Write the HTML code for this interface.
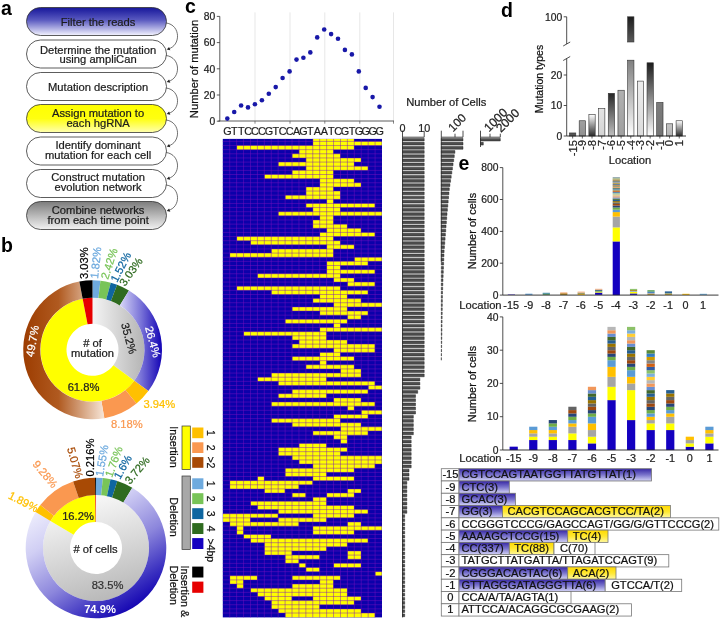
<!DOCTYPE html>
<html><head><meta charset="utf-8"><title>Figure</title>
<style>
html,body{margin:0;padding:0;background:#fff;}
svg{display:block;font-family:'Liberation Sans', sans-serif;}
</style></head><body>
<svg width="720" height="619" viewBox="0 0 720 619">
<defs>
<linearGradient id="gBlue" x1="0" y1="0" x2="0" y2="1"><stop offset="0" stop-color="#16169a"/><stop offset="0.45" stop-color="#5a5ac0"/><stop offset="1" stop-color="#f4f4ff"/></linearGradient>
<linearGradient id="gYel" x1="0" y1="0" x2="0" y2="1"><stop offset="0" stop-color="#ffff00"/><stop offset="0.5" stop-color="#ffff10"/><stop offset="1" stop-color="#ffffb0"/></linearGradient>
<linearGradient id="gGray" x1="0" y1="0" x2="0" y2="1"><stop offset="0" stop-color="#7c7c7c"/><stop offset="0.5" stop-color="#b8b8b8"/><stop offset="1" stop-color="#f2f2f2"/></linearGradient>
<linearGradient id="uBlue" gradientUnits="userSpaceOnUse" x1="114.5" y1="0" x2="162.5" y2="0"><stop offset="0" stop-color="#f0f0ff"/><stop offset="0.55" stop-color="#7a74d8"/><stop offset="1" stop-color="#1000b4"/></linearGradient>
<linearGradient id="uBrown" gradientUnits="userSpaceOnUse" x1="22.5" y1="0" x2="102.5" y2="0"><stop offset="0" stop-color="#9c3c00"/><stop offset="0.45" stop-color="#b05a20"/><stop offset="1" stop-color="#f4e0d0"/></linearGradient>
<linearGradient id="uGray" gradientUnits="userSpaceOnUse" x1="92.5" y1="0" x2="144.5" y2="0"><stop offset="0" stop-color="#f4f4f4"/><stop offset="1" stop-color="#b4b4b4"/></linearGradient>
<linearGradient id="lBlue" gradientUnits="userSpaceOnUse" x1="54" y1="488" x2="132" y2="612"><stop offset="0" stop-color="#f6f6ff"/><stop offset="0.3" stop-color="#d0cef4"/><stop offset="0.6" stop-color="#8c86dc"/><stop offset="0.85" stop-color="#3a30c0"/><stop offset="1" stop-color="#1000b0"/></linearGradient>
<linearGradient id="lGray" gradientUnits="userSpaceOnUse" x1="81" y1="496" x2="111" y2="600"><stop offset="0" stop-color="#fafafa"/><stop offset="1" stop-color="#b8b8b8"/></linearGradient>
<linearGradient id="d0" x1="0" y1="0" x2="0" y2="1"><stop offset="0" stop-color="#555"/><stop offset="1" stop-color="#555"/></linearGradient>
<linearGradient id="d1" x1="0" y1="0" x2="0" y2="1"><stop offset="0" stop-color="#a0a0a0"/><stop offset="1" stop-color="#909090"/></linearGradient>
<linearGradient id="d2" x1="0" y1="0" x2="0" y2="1"><stop offset="0" stop-color="#ffffff"/><stop offset="1" stop-color="#2a2a2a"/></linearGradient>
<linearGradient id="d3" x1="0" y1="0" x2="0" y2="1"><stop offset="0" stop-color="#e4e4e4"/><stop offset="1" stop-color="#d4d4d4"/></linearGradient>
<linearGradient id="d4" x1="0" y1="0" x2="0" y2="1"><stop offset="0" stop-color="#262626"/><stop offset="1" stop-color="#c0c0c0"/></linearGradient>
<linearGradient id="d5" x1="0" y1="0" x2="0" y2="1"><stop offset="0" stop-color="#b0b0b0"/><stop offset="1" stop-color="#a0a0a0"/></linearGradient>
<linearGradient id="d6" x1="0" y1="0" x2="0" y2="1"><stop offset="0" stop-color="#808080"/><stop offset="1" stop-color="#ffffff"/></linearGradient>
<linearGradient id="d6u" x1="0" y1="0" x2="0" y2="1"><stop offset="0" stop-color="#1c1c1c"/><stop offset="1" stop-color="#5a5a5a"/></linearGradient>
<linearGradient id="d7" x1="0" y1="0" x2="0" y2="1"><stop offset="0" stop-color="#ececec"/><stop offset="1" stop-color="#dcdcdc"/></linearGradient>
<linearGradient id="d8" x1="0" y1="0" x2="0" y2="1"><stop offset="0" stop-color="#1c1c1c"/><stop offset="1" stop-color="#ffffff"/></linearGradient>
<linearGradient id="d9" x1="0" y1="0" x2="0" y2="1"><stop offset="0" stop-color="#7c7c7c"/><stop offset="1" stop-color="#747474"/></linearGradient>
<linearGradient id="d10" x1="0" y1="0" x2="0" y2="1"><stop offset="0" stop-color="#c4c4c4"/><stop offset="1" stop-color="#b4b4b4"/></linearGradient>
<linearGradient id="d11" x1="0" y1="0" x2="0" y2="1"><stop offset="0" stop-color="#ffffff"/><stop offset="1" stop-color="#2a2a2a"/></linearGradient>
<linearGradient id="tB" x1="0" y1="0" x2="0" y2="1"><stop offset="0" stop-color="#3626a4"/><stop offset="0.5" stop-color="#7a74cc"/><stop offset="1" stop-color="#d4d4f6"/></linearGradient>
<linearGradient id="tY" x1="0" y1="0" x2="0" y2="1"><stop offset="0" stop-color="#ffd800"/><stop offset="0.5" stop-color="#ffe830"/><stop offset="1" stop-color="#fff8a0"/></linearGradient>
</defs>
<rect x="0" y="0" width="720" height="619" fill="#fff"/>
<text x="1.00" y="14.50" font-size="19.5" text-anchor="start" fill="#000" font-weight="bold">a</text>
<rect x="26.5" y="7.5" width="140.0" height="28" rx="14" ry="14" fill="url(#gBlue)" stroke="#333" stroke-width="0.8"/>
<text x="98.10" y="25.50" font-size="11.2" text-anchor="middle" fill="#1c1c1c" font-weight="normal" stroke="#1c1c1c" stroke-width="0.22">Filter the reads</text>
<path d="M166.2,23.0 C181.0,25.0 181.0,46 168.0,49" fill="none" stroke="#333" stroke-width="0.7"/>
<path d="M166.7,49.6 l3.6,0.6 l-1.2,-3.2 z" fill="#222"/>
<rect x="26.5" y="40" width="140.0" height="28" rx="14" ry="14" fill="#fff" stroke="#333" stroke-width="0.8"/>
<text x="98.10" y="53.75" font-size="11.2" text-anchor="middle" fill="#1c1c1c" font-weight="normal" stroke="#1c1c1c" stroke-width="0.22">Determine the mutation</text>
<text x="98.10" y="63.00" font-size="11.2" text-anchor="middle" fill="#1c1c1c" font-weight="normal" stroke="#1c1c1c" stroke-width="0.22">using ampliCan</text>
<path d="M166.2,55.5 C181.0,57.5 181.0,78.5 168.0,81.5" fill="none" stroke="#333" stroke-width="0.7"/>
<path d="M166.7,82.1 l3.6,0.6 l-1.2,-3.2 z" fill="#222"/>
<rect x="26.5" y="72.5" width="140.0" height="28" rx="14" ry="14" fill="#fff" stroke="#333" stroke-width="0.8"/>
<text x="98.10" y="90.50" font-size="11.2" text-anchor="middle" fill="#1c1c1c" font-weight="normal" stroke="#1c1c1c" stroke-width="0.22">Mutation description</text>
<path d="M166.2,88.0 C181.0,90.0 181.0,110.5 168.0,113.5" fill="none" stroke="#333" stroke-width="0.7"/>
<path d="M166.7,114.1 l3.6,0.6 l-1.2,-3.2 z" fill="#222"/>
<rect x="26.5" y="104.5" width="140.0" height="28" rx="14" ry="14" fill="url(#gYel)" stroke="#333" stroke-width="0.8"/>
<text x="98.10" y="117.25" font-size="11.2" text-anchor="middle" fill="#1c1c1c" font-weight="normal" stroke="#1c1c1c" stroke-width="0.22">Assign mutation to</text>
<text x="98.10" y="127.25" font-size="11.2" text-anchor="middle" fill="#1c1c1c" font-weight="normal" stroke="#1c1c1c" stroke-width="0.22">each hgRNA</text>
<path d="M166.2,120.0 C181.0,122.0 181.0,143 168.0,146" fill="none" stroke="#333" stroke-width="0.7"/>
<path d="M166.7,146.6 l3.6,0.6 l-1.2,-3.2 z" fill="#222"/>
<rect x="26.5" y="137" width="140.0" height="28" rx="14" ry="14" fill="#fff" stroke="#333" stroke-width="0.8"/>
<text x="98.10" y="149.25" font-size="11.2" text-anchor="middle" fill="#1c1c1c" font-weight="normal" stroke="#1c1c1c" stroke-width="0.22">Identify dominant</text>
<text x="98.10" y="159.25" font-size="11.2" text-anchor="middle" fill="#1c1c1c" font-weight="normal" stroke="#1c1c1c" stroke-width="0.22">mutation for each cell</text>
<path d="M166.2,152.5 C181.0,154.5 181.0,175.5 168.0,178.5" fill="none" stroke="#333" stroke-width="0.7"/>
<path d="M166.7,179.1 l3.6,0.6 l-1.2,-3.2 z" fill="#222"/>
<rect x="26.5" y="169.5" width="140.0" height="28" rx="14" ry="14" fill="#fff" stroke="#333" stroke-width="0.8"/>
<text x="98.10" y="181.25" font-size="11.2" text-anchor="middle" fill="#1c1c1c" font-weight="normal" stroke="#1c1c1c" stroke-width="0.22">Construct mutation</text>
<text x="98.10" y="191.00" font-size="11.2" text-anchor="middle" fill="#1c1c1c" font-weight="normal" stroke="#1c1c1c" stroke-width="0.22">evolution network</text>
<path d="M166.2,185.0 C181.0,187.0 181.0,207.5 168.0,210.5" fill="none" stroke="#333" stroke-width="0.7"/>
<path d="M166.7,211.1 l3.6,0.6 l-1.2,-3.2 z" fill="#222"/>
<rect x="26.5" y="201.5" width="140.0" height="28" rx="14" ry="14" fill="url(#gGray)" stroke="#333" stroke-width="0.8"/>
<text x="98.10" y="213.75" font-size="11.2" text-anchor="middle" fill="#1c1c1c" font-weight="normal" stroke="#1c1c1c" stroke-width="0.22">Combine networks</text>
<text x="98.10" y="223.75" font-size="11.2" text-anchor="middle" fill="#1c1c1c" font-weight="normal" stroke="#1c1c1c" stroke-width="0.22">from each time point</text>
<text x="1.00" y="252.00" font-size="19.5" text-anchor="start" fill="#000" font-weight="bold">b</text>
<path d="M92.50,297.70 A52,52 0 0 1 134.28,380.66 L113.39,365.18 A26,26 0 0 0 92.50,323.70 Z" fill="url(#uGray)"/>
<path d="M134.28,380.66 A52,52 0 1 1 82.66,298.64 L87.58,324.17 A26,26 0 1 0 113.39,365.18 Z" fill="#ffff00"/>
<path d="M82.66,298.64 A52,52 0 0 1 92.50,297.70 L92.50,323.70 A26,26 0 0 0 87.58,324.17 Z" fill="#e60000"/>
<path d="M92.50,280.20 A69.5,69.5 0 0 1 100.43,280.65 L98.43,298.04 A52,52 0 0 0 92.50,297.70 Z" fill="#6eaade"/>
<path d="M100.43,280.65 A69.5,69.5 0 0 1 110.80,282.65 L106.19,299.53 A52,52 0 0 0 98.43,298.04 Z" fill="#78c458"/>
<path d="M110.80,282.65 A69.5,69.5 0 0 1 117.11,284.70 L110.91,301.07 A52,52 0 0 0 106.19,299.53 Z" fill="#0f66a0"/>
<path d="M117.11,284.70 A69.5,69.5 0 0 1 128.96,290.53 L119.78,305.43 A52,52 0 0 0 110.91,301.07 Z" fill="#2f6b20"/>
<path d="M128.96,290.53 A69.5,69.5 0 0 1 148.34,391.08 L134.28,380.66 A52,52 0 0 0 119.78,305.43 Z" fill="url(#uBlue)"/>
<path d="M148.34,391.08 A69.5,69.5 0 0 1 136.50,403.50 L125.42,389.95 A52,52 0 0 0 134.28,380.66 Z" fill="#ffc000"/>
<path d="M136.50,403.50 A69.5,69.5 0 0 1 104.36,418.18 L101.38,400.94 A52,52 0 0 0 125.42,389.95 Z" fill="#fa9850"/>
<path d="M104.36,418.18 A69.5,69.5 0 0 1 79.35,281.46 L82.66,298.64 A52,52 0 0 0 101.38,400.94 Z" fill="url(#uBrown)"/>
<path d="M79.35,281.46 A69.5,69.5 0 0 1 92.50,280.20 L92.50,297.70 A52,52 0 0 0 82.66,298.64 Z" fill="#000"/>
<text x="92.50" y="346.70" font-size="11.2" text-anchor="middle" fill="#1a1a1a" font-weight="normal" stroke="#1a1a1a" stroke-width="0.22"># of</text>
<text x="92.50" y="356.50" font-size="11.2" text-anchor="middle" fill="#1a1a1a" font-weight="normal" stroke="#1a1a1a" stroke-width="0.22">mutation</text>
<text x="83.50" y="391.30" font-size="11.2" text-anchor="middle" fill="#222" font-weight="normal" stroke="#222" stroke-width="0.22">61.8%</text>
<text x="121.00" y="324.00" font-size="11.2" text-anchor="start" fill="#1a1a1a" font-weight="normal" stroke="#1a1a1a" stroke-width="0.22" transform="rotate(75 121.00 324.00)">35.2%</text>
<text x="145.00" y="327.50" font-size="11.2" text-anchor="start" fill="#fff" font-weight="normal" stroke="#fff" stroke-width="0.22" transform="rotate(75 145.00 327.50)">26.4%</text>
<text x="33.50" y="357.50" font-size="11.2" text-anchor="start" fill="#fff" font-weight="normal" stroke="#fff" stroke-width="0.22" transform="rotate(-80 33.50 357.50)">49.7%</text>
<text x="143.50" y="407.50" font-size="11.2" text-anchor="start" fill="#ffc000" font-weight="normal" stroke="#ffc000" stroke-width="0.22">3.94%</text>
<text x="111.00" y="428.00" font-size="11.2" text-anchor="start" fill="#fa9850" font-weight="normal" stroke="#fa9850" stroke-width="0.22">8.18%</text>
<text x="87.50" y="279.00" font-size="11.2" text-anchor="start" fill="#000" font-weight="normal" stroke="#000" stroke-width="0.22" transform="rotate(-90 87.50 279.00)">3.03%</text>
<text x="98.00" y="279.00" font-size="11.2" text-anchor="start" fill="#6eaade" font-weight="normal" stroke="#6eaade" stroke-width="0.22" transform="rotate(-84 98.00 279.00)">1.82%</text>
<text x="108.00" y="280.00" font-size="11.2" text-anchor="start" fill="#78c458" font-weight="normal" stroke="#78c458" stroke-width="0.22" transform="rotate(-72 108.00 280.00)">2.42%</text>
<text x="117.00" y="283.00" font-size="11.2" text-anchor="start" fill="#0f66a0" font-weight="normal" stroke="#0f66a0" stroke-width="0.22" transform="rotate(-63 117.00 283.00)">1.52%</text>
<text x="125.00" y="287.00" font-size="11.2" text-anchor="start" fill="#2f6b20" font-weight="normal" stroke="#2f6b20" stroke-width="0.22" transform="rotate(-55 125.00 287.00)">3.03%</text>
<path d="M96.00,495.00 A53,53 0 1 1 50.47,520.88 L73.66,534.69 A26,26 0 1 0 96.00,522.00 Z" fill="url(#lGray)"/>
<path d="M50.47,520.88 A53,53 0 0 1 95.30,495.00 L95.66,522.00 A26,26 0 0 0 73.66,534.69 Z" fill="#ffff00"/>
<path d="M95.30,495.00 A53,53 0 0 1 96.02,495.00 L96.01,522.00 A26,26 0 0 0 95.66,522.00 Z" fill="#e60000"/>
<path d="M96.00,477.70 A70.3,70.3 0 0 1 102.84,478.03 L101.15,495.25 A53,53 0 0 0 96.00,495.00 Z" fill="#6eaade"/>
<path d="M102.84,478.03 A70.3,70.3 0 0 1 110.52,479.21 L106.94,496.14 A53,53 0 0 0 101.15,495.25 Z" fill="#78c458"/>
<path d="M110.52,479.21 A70.3,70.3 0 0 1 117.35,481.02 L112.09,497.50 A53,53 0 0 0 106.94,496.14 Z" fill="#0f66a0"/>
<path d="M117.35,481.02 A70.3,70.3 0 0 1 132.28,487.78 L123.35,502.60 A53,53 0 0 0 112.09,497.50 Z" fill="#2f6b20"/>
<path d="M132.28,487.78 A70.3,70.3 0 1 1 35.60,512.02 L50.47,520.88 A53,53 0 1 0 123.35,502.60 Z" fill="url(#lBlue)"/>
<path d="M35.60,512.02 A70.3,70.3 0 0 1 40.29,505.12 L54.00,515.67 A53,53 0 0 0 50.47,520.88 Z" fill="#ffc000"/>
<path d="M40.29,505.12 A70.3,70.3 0 0 1 73.10,481.53 L78.74,497.89 A53,53 0 0 0 54.00,515.67 Z" fill="#fa9850"/>
<path d="M73.10,481.53 A70.3,70.3 0 0 1 95.07,477.71 L95.30,495.00 A53,53 0 0 0 78.74,497.89 Z" fill="#a84a05"/>
<path d="M95.07,477.71 A70.3,70.3 0 0 1 96.03,477.70 L96.02,495.00 A53,53 0 0 0 95.30,495.00 Z" fill="#000"/>
<text x="95.50" y="552.50" font-size="11.2" text-anchor="middle" fill="#1a1a1a" font-weight="normal" stroke="#1a1a1a" stroke-width="0.22"># of cells</text>
<text x="107.50" y="589.30" font-size="11.2" text-anchor="middle" fill="#333" font-weight="normal" stroke="#333" stroke-width="0.22">83.5%</text>
<text x="100.00" y="612.50" font-size="11.2" text-anchor="middle" fill="#fff" font-weight="bold">74.9%</text>
<text x="78.00" y="519.60" font-size="11.2" text-anchor="middle" fill="#222" font-weight="normal" stroke="#222" stroke-width="0.22">16.2%</text>
<text x="94.30" y="476.50" font-size="11.2" text-anchor="start" fill="#000" font-weight="normal" stroke="#000" stroke-width="0.22" transform="rotate(-90 94.30 476.50)">0.216%</text>
<text x="103.00" y="477.00" font-size="11.2" text-anchor="start" fill="#6eaade" font-weight="normal" stroke="#6eaade" stroke-width="0.22" transform="rotate(-80 103.00 477.00)">1.55%</text>
<text x="112.00" y="478.00" font-size="11.2" text-anchor="start" fill="#78c458" font-weight="normal" stroke="#78c458" stroke-width="0.22" transform="rotate(-70 112.00 478.00)">1.76%</text>
<text x="120.00" y="480.00" font-size="11.2" text-anchor="start" fill="#0f66a0" font-weight="normal" stroke="#0f66a0" stroke-width="0.22" transform="rotate(-61 120.00 480.00)">1.6%</text>
<text x="130.00" y="485.00" font-size="11.2" text-anchor="start" fill="#2f6b20" font-weight="normal" stroke="#2f6b20" stroke-width="0.22" transform="rotate(-50 130.00 485.00)">3.72%</text>
<text x="67.00" y="448.50" font-size="11.2" text-anchor="start" fill="#a84a05" font-weight="normal" stroke="#a84a05" stroke-width="0.22" transform="rotate(74 67.00 448.50)">5.07%</text>
<text x="32.00" y="464.50" font-size="11.2" text-anchor="start" fill="#fa9850" font-weight="normal" stroke="#fa9850" stroke-width="0.22" transform="rotate(50 32.00 464.50)">9.28%</text>
<text x="7.50" y="498.00" font-size="11.2" text-anchor="start" fill="#ffc000" font-weight="normal" stroke="#ffc000" stroke-width="0.22" transform="rotate(27 7.50 498.00)">1.89%</text>
<text x="169.50" y="447.00" font-size="10.8" text-anchor="middle" fill="#111" font-weight="normal" stroke="#111" stroke-width="0.22" transform="rotate(90 169.50 447.00)">Insertion</text>
<rect x="182" y="426" width="8.3" height="43.5" fill="#ffff00" stroke="#333" stroke-width="0.7"/>
<rect x="192.2" y="427.5" width="11.2" height="10.7" fill="#ffc000"/>
<rect x="192.2" y="442.3" width="11.2" height="10.7" fill="#fa9850"/>
<rect x="192.2" y="457.1" width="11.2" height="10.7" fill="#a84a05"/>
<text x="207.00" y="432.80" font-size="10.5" text-anchor="middle" fill="#111" font-weight="normal" stroke="#111" stroke-width="0.22" transform="rotate(90 207.00 432.80)">1</text>
<text x="207.00" y="447.60" font-size="10.5" text-anchor="middle" fill="#111" font-weight="normal" stroke="#111" stroke-width="0.22" transform="rotate(90 207.00 447.60)">2</text>
<text x="207.00" y="462.40" font-size="10.5" text-anchor="middle" fill="#111" font-weight="normal" stroke="#111" stroke-width="0.22" transform="rotate(90 207.00 462.40)">&gt;2</text>
<text x="169.50" y="517.00" font-size="10.8" text-anchor="middle" fill="#111" font-weight="normal" stroke="#111" stroke-width="0.22" transform="rotate(90 169.50 517.00)">Deletion</text>
<rect x="182" y="476" width="8.3" height="73.5" fill="#a8a8a8" stroke="#333" stroke-width="0.7"/>
<rect x="192.2" y="478.3" width="11.2" height="10.9" fill="#6eaade"/>
<rect x="192.2" y="493.2" width="11.2" height="10.9" fill="#78c458"/>
<rect x="192.2" y="508.2" width="11.2" height="10.9" fill="#0f66a0"/>
<rect x="192.2" y="523.1" width="11.2" height="10.9" fill="#2f6b20"/>
<rect x="192.2" y="538.1" width="11.2" height="10.9" fill="#1400c0"/>
<text x="207.00" y="483.70" font-size="10.5" text-anchor="middle" fill="#111" font-weight="normal" stroke="#111" stroke-width="0.22" transform="rotate(90 207.00 483.70)">1</text>
<text x="207.00" y="498.65" font-size="10.5" text-anchor="middle" fill="#111" font-weight="normal" stroke="#111" stroke-width="0.22" transform="rotate(90 207.00 498.65)">2</text>
<text x="207.00" y="513.60" font-size="10.5" text-anchor="middle" fill="#111" font-weight="normal" stroke="#111" stroke-width="0.22" transform="rotate(90 207.00 513.60)">3</text>
<text x="207.00" y="528.55" font-size="10.5" text-anchor="middle" fill="#111" font-weight="normal" stroke="#111" stroke-width="0.22" transform="rotate(90 207.00 528.55)">4</text>
<text x="207.00" y="538.50" font-size="10.5" text-anchor="start" fill="#111" font-weight="normal" stroke="#111" stroke-width="0.22" transform="rotate(90 207.00 538.50)">&gt;4bp</text>
<text x="180.50" y="565.50" font-size="10.8" text-anchor="start" fill="#111" font-weight="normal" stroke="#111" stroke-width="0.22" transform="rotate(90 180.50 565.50)">Insertion &amp;</text>
<text x="169.50" y="565.50" font-size="10.8" text-anchor="start" fill="#111" font-weight="normal" stroke="#111" stroke-width="0.22" transform="rotate(90 169.50 565.50)">Deletion</text>
<rect x="192.2" y="566.6" width="11.2" height="10.9" fill="#000"/>
<rect x="192.2" y="581.6" width="11.2" height="11.2" fill="#e60000"/>
<text x="185.00" y="13.00" font-size="19.5" text-anchor="start" fill="#000" font-weight="bold">c</text>
<line x1="255" y1="12.4" x2="255" y2="121.2" stroke="#dcdcdc" stroke-width="0.7"/>
<line x1="255" y1="121.2" x2="255" y2="123.7" stroke="#555" stroke-width="0.7"/>
<line x1="290" y1="12.4" x2="290" y2="121.2" stroke="#dcdcdc" stroke-width="0.7"/>
<line x1="290" y1="121.2" x2="290" y2="123.7" stroke="#555" stroke-width="0.7"/>
<line x1="324.8" y1="12.4" x2="324.8" y2="121.2" stroke="#dcdcdc" stroke-width="0.7"/>
<line x1="324.8" y1="121.2" x2="324.8" y2="123.7" stroke="#555" stroke-width="0.7"/>
<line x1="359.8" y1="12.4" x2="359.8" y2="121.2" stroke="#dcdcdc" stroke-width="0.7"/>
<line x1="359.8" y1="121.2" x2="359.8" y2="123.7" stroke="#555" stroke-width="0.7"/>
<line x1="393.5" y1="12.4" x2="393.5" y2="121.2" stroke="#dcdcdc" stroke-width="0.7"/>
<line x1="393.5" y1="121.2" x2="393.5" y2="123.7" stroke="#555" stroke-width="0.7"/>
<line x1="219.8" y1="16.4" x2="219.8" y2="121.2" stroke="#333" stroke-width="0.8"/>
<line x1="218.3" y1="121.0" x2="394" y2="121.0" stroke="#333" stroke-width="0.8"/>
<line x1="216.8" y1="121.2" x2="219.8" y2="121.2" stroke="#333" stroke-width="0.8"/>
<text x="215.30" y="124.90" font-size="10.3" text-anchor="end" fill="#222" font-weight="normal" stroke="#222" stroke-width="0.22">0</text>
<line x1="216.8" y1="95.0" x2="219.8" y2="95.0" stroke="#333" stroke-width="0.8"/>
<text x="215.30" y="98.70" font-size="10.3" text-anchor="end" fill="#222" font-weight="normal" stroke="#222" stroke-width="0.22">20</text>
<line x1="216.8" y1="68.8" x2="219.8" y2="68.8" stroke="#333" stroke-width="0.8"/>
<text x="215.30" y="72.50" font-size="10.3" text-anchor="end" fill="#222" font-weight="normal" stroke="#222" stroke-width="0.22">40</text>
<line x1="216.8" y1="42.6" x2="219.8" y2="42.6" stroke="#333" stroke-width="0.8"/>
<text x="215.30" y="46.30" font-size="10.3" text-anchor="end" fill="#222" font-weight="normal" stroke="#222" stroke-width="0.22">60</text>
<line x1="216.8" y1="16.4" x2="219.8" y2="16.4" stroke="#333" stroke-width="0.8"/>
<text x="215.30" y="20.10" font-size="10.3" text-anchor="end" fill="#222" font-weight="normal" stroke="#222" stroke-width="0.22">80</text>
<text x="197.50" y="69.00" font-size="11.2" text-anchor="middle" fill="#111" font-weight="normal" stroke="#111" stroke-width="0.22" transform="rotate(-90 197.50 69.00)">Number of mutation</text>
<circle cx="227.3" cy="118.6" r="2.3" fill="#1818a8"/>
<circle cx="234.2" cy="112.0" r="2.3" fill="#1818a8"/>
<circle cx="241.1" cy="105.5" r="2.3" fill="#1818a8"/>
<circle cx="248.0" cy="107.4" r="2.3" fill="#1818a8"/>
<circle cx="254.9" cy="104.2" r="2.3" fill="#1818a8"/>
<circle cx="261.9" cy="100.2" r="2.3" fill="#1818a8"/>
<circle cx="268.8" cy="93.7" r="2.3" fill="#1818a8"/>
<circle cx="275.7" cy="87.1" r="2.3" fill="#1818a8"/>
<circle cx="282.6" cy="78.0" r="2.3" fill="#1818a8"/>
<circle cx="289.6" cy="71.4" r="2.3" fill="#1818a8"/>
<circle cx="296.5" cy="59.6" r="2.3" fill="#1818a8"/>
<circle cx="303.4" cy="57.7" r="2.3" fill="#1818a8"/>
<circle cx="310.3" cy="52.4" r="2.3" fill="#1818a8"/>
<circle cx="317.2" cy="37.4" r="2.3" fill="#1818a8"/>
<circle cx="324.2" cy="29.5" r="2.3" fill="#1818a8"/>
<circle cx="331.1" cy="34.1" r="2.3" fill="#1818a8"/>
<circle cx="338.0" cy="38.7" r="2.3" fill="#1818a8"/>
<circle cx="344.9" cy="49.9" r="2.3" fill="#1818a8"/>
<circle cx="351.9" cy="54.4" r="2.3" fill="#1818a8"/>
<circle cx="358.8" cy="71.4" r="2.3" fill="#1818a8"/>
<circle cx="365.7" cy="87.9" r="2.3" fill="#1818a8"/>
<circle cx="372.6" cy="97.1" r="2.3" fill="#1818a8"/>
<circle cx="379.5" cy="106.8" r="2.3" fill="#1818a8"/>
<text y="135.0" font-size="10.8" stroke="#222" stroke-width="0.2" text-anchor="middle" fill="#222"><tspan x="227.4">G</tspan><tspan x="234.3">T</tspan><tspan x="241.2">T</tspan><tspan x="248.1">C</tspan><tspan x="255.0">C</tspan><tspan x="262.0">C</tspan><tspan x="268.9">G</tspan><tspan x="275.8">T</tspan><tspan x="282.7">C</tspan><tspan x="289.7">C</tspan><tspan x="296.6">A</tspan><tspan x="303.5">G</tspan><tspan x="310.4">T</tspan><tspan x="317.3">A</tspan><tspan x="324.3">A</tspan><tspan x="331.2">T</tspan><tspan x="338.1">C</tspan><tspan x="345.0">G</tspan><tspan x="352.0">T</tspan><tspan x="358.9">G</tspan><tspan x="365.8">G</tspan><tspan x="372.7">G</tspan><tspan x="379.6">G</tspan></text>
<rect x="222.8" y="138.9" width="159.20" height="478.50" fill="#0b00aa"/>
<path d="M313.03,138.90H354.06V141.40H313.03ZM313.03,141.40H381.75V145.54H313.03ZM236.89,145.54H354.06V149.67H236.89ZM299.19,149.67H333.30V153.81H299.19ZM292.27,153.81H340.22V157.95H292.27ZM306.11,157.95H360.98V162.09H306.11ZM278.42,162.09H354.06V166.22H278.42ZM306.11,166.22H367.91V170.36H306.11ZM292.27,170.36H333.30V174.50H292.27ZM264.58,174.50H333.30V178.63H264.58ZM319.95,178.63H354.06V182.77H319.95ZM319.95,182.77H360.98V186.91H319.95ZM306.11,186.91H333.30V191.04H306.11ZM306.11,191.04H340.22V195.18H306.11ZM285.35,195.18H340.22V199.32H285.35ZM326.88,199.32H333.30V203.45H326.88ZM306.11,203.45H374.83V207.59H306.11ZM313.03,207.59H340.22V211.73H313.03ZM278.42,211.73H381.75V215.87H278.42ZM319.95,215.87H333.30V220.00H319.95ZM313.03,220.00H333.30V224.14H313.03ZM313.03,224.14H347.14V228.28H313.03ZM326.88,228.28H360.98V232.41H326.88ZM319.95,232.41H374.83V236.55H319.95ZM236.89,236.55H333.30V240.69H236.89ZM250.74,240.69H340.22V244.82H250.74ZM326.88,244.82H354.06V248.96H326.88ZM271.50,248.96H333.30V253.10H271.50ZM229.97,253.10H333.30V257.24H229.97ZM354.56,257.24H381.75V261.37H354.56ZM326.88,261.37H367.91V265.51H326.88ZM326.88,265.51H340.22V269.65H326.88ZM326.88,269.65H374.83V273.78H326.88ZM257.66,273.78H340.22V277.92H257.66ZM333.80,277.92H354.06V282.06H333.80ZM347.64,282.06H374.83V286.19H347.64ZM236.89,286.19H340.22V290.33H236.89ZM271.50,290.33H367.91V294.47H271.50ZM319.95,294.47H347.14V298.61H319.95ZM313.03,298.61H360.98V302.74H313.03ZM333.80,302.74H381.75V306.88H333.80ZM292.27,306.88H347.14V311.02H292.27ZM319.95,311.02H367.91V315.15H319.95ZM347.64,315.15H360.98V319.29H347.64ZM285.35,319.29H347.14V323.43H285.35ZM333.80,323.43H340.22V327.56H333.80ZM319.95,327.56H381.75V331.70H319.95ZM243.82,331.70H326.38V335.84H243.82ZM292.27,335.84H326.38V339.98H292.27ZM299.19,339.98H347.14V344.11H299.19ZM292.27,344.11H374.83V348.25H292.27ZM333.80,348.25H374.83V352.39H333.80ZM319.95,352.39H340.22V356.52H319.95ZM292.27,356.52H354.06V360.66H292.27ZM319.95,360.66H326.38V364.80H319.95ZM306.11,364.80H354.06V368.93H306.11ZM340.72,368.93H360.98V373.07H340.72ZM271.50,373.07H360.98V377.21H271.50ZM257.66,377.21H326.38V381.35H257.66ZM278.42,381.35H374.83V385.48H278.42ZM368.41,385.48H381.75V389.62H368.41ZM292.27,389.62H367.91V393.76H292.27ZM278.42,393.76H326.38V397.89H278.42ZM333.80,397.89H360.98V402.03H333.80ZM271.50,402.03H374.83V406.17H271.50ZM347.64,406.17H354.06V410.30H347.64ZM361.48,410.30H381.75V414.44H361.48ZM333.80,414.44H367.91V418.58H333.80ZM271.50,418.58H340.22V422.72H271.50ZM292.27,422.72H360.98V426.85H292.27ZM340.72,426.85H381.75V430.99H340.72ZM313.03,430.99H367.91V435.13H313.03ZM333.80,435.13H347.14V439.26H333.80ZM340.72,439.26H347.14V443.40H340.72ZM299.19,443.40H326.38V447.54H299.19ZM278.42,447.54H347.14V451.67H278.42ZM278.42,451.67H340.22V455.81H278.42ZM292.27,455.81H381.75V459.95H292.27ZM299.19,459.95H381.75V464.09H299.19ZM313.03,464.09H374.83V468.22H313.03ZM285.35,468.22H354.06V472.36H285.35ZM285.35,472.36H326.38V476.50H285.35ZM257.66,476.50H264.08V480.63H257.66ZM313.03,476.50H354.06V480.63H313.03ZM229.97,480.63H312.53V484.77H229.97ZM229.97,484.77H298.69V488.91H229.97ZM264.58,488.91H284.85V493.04H264.58ZM347.64,488.91H360.98V493.04H347.64ZM292.27,493.04H305.61V497.18H292.27ZM326.88,493.04H354.06V497.18H326.88ZM313.03,497.18H326.38V501.32H313.03ZM250.74,501.32H326.38V505.46H250.74ZM257.66,505.46H354.06V509.59H257.66ZM278.42,509.59H367.91V513.73H278.42ZM223.05,513.73H277.92V517.87H223.05ZM313.03,513.73H354.06V517.87H313.03ZM223.05,517.87H250.24V522.00H223.05ZM278.42,517.87H326.38V522.00H278.42ZM229.97,522.00H298.69V526.14H229.97ZM347.64,522.00H360.98V526.14H347.64ZM236.89,526.14H243.32V530.28H236.89ZM313.03,526.14H381.75V530.28H313.03ZM236.89,530.28H243.32V534.41H236.89ZM313.03,530.28H354.06V534.41H313.03ZM243.82,534.41H271.00V538.55H243.82ZM250.74,538.55H367.91V542.69H250.74ZM264.58,542.69H347.14V546.83H264.58ZM264.58,546.83H326.38V550.96H264.58ZM264.58,550.96H291.77V555.10H264.58ZM347.64,550.96H360.98V555.10H347.64ZM285.35,555.10H319.45V559.24H285.35ZM347.64,555.10H360.98V559.24H347.64ZM285.35,559.24H298.69V563.37H285.35ZM299.19,563.37H305.61V567.51H299.19ZM333.80,563.37H360.98V567.51H333.80ZM306.11,567.51H319.45V571.65H306.11ZM375.33,571.65H381.75V575.78H375.33ZM229.97,575.78H257.16V579.92H229.97ZM292.27,575.78H340.22V579.92H292.27ZM229.97,579.92H243.32V584.06H229.97ZM319.95,579.92H333.30V584.06H319.95ZM236.89,584.06H243.32V588.20H236.89ZM292.27,584.06H333.30V588.20H292.27ZM250.74,588.20H347.14V592.33H250.74ZM257.66,592.33H347.14V596.47H257.66ZM264.58,596.47H291.77V600.61H264.58ZM313.03,596.47H360.98V600.61H313.03ZM271.50,600.61H354.06V604.74H271.50ZM271.50,604.74H319.45V608.88H271.50ZM278.42,608.88H360.98V613.02H278.42ZM285.35,613.02H374.83V617.15H285.35Z" fill="#ffff00"/>
<path d="M229.72,138.9V617.4M236.64,138.9V617.4M243.57,138.9V617.4M250.49,138.9V617.4M257.41,138.9V617.4M264.33,138.9V617.4M271.25,138.9V617.4M278.17,138.9V617.4M285.10,138.9V617.4M292.02,138.9V617.4M298.94,138.9V617.4M305.86,138.9V617.4M312.78,138.9V617.4M319.70,138.9V617.4M326.63,138.9V617.4M333.55,138.9V617.4M340.47,138.9V617.4M347.39,138.9V617.4M354.31,138.9V617.4M361.23,138.9V617.4M368.16,138.9V617.4M375.08,138.9V617.4M222.8,141.40H382.0M222.8,145.54H382.0M222.8,149.67H382.0M222.8,153.81H382.0M222.8,157.95H382.0M222.8,162.09H382.0M222.8,166.22H382.0M222.8,170.36H382.0M222.8,174.50H382.0M222.8,178.63H382.0M222.8,182.77H382.0M222.8,186.91H382.0M222.8,191.04H382.0M222.8,195.18H382.0M222.8,199.32H382.0M222.8,203.45H382.0M222.8,207.59H382.0M222.8,211.73H382.0M222.8,215.87H382.0M222.8,220.00H382.0M222.8,224.14H382.0M222.8,228.28H382.0M222.8,232.41H382.0M222.8,236.55H382.0M222.8,240.69H382.0M222.8,244.82H382.0M222.8,248.96H382.0M222.8,253.10H382.0M222.8,257.24H382.0M222.8,261.37H382.0M222.8,265.51H382.0M222.8,269.65H382.0M222.8,273.78H382.0M222.8,277.92H382.0M222.8,282.06H382.0M222.8,286.19H382.0M222.8,290.33H382.0M222.8,294.47H382.0M222.8,298.61H382.0M222.8,302.74H382.0M222.8,306.88H382.0M222.8,311.02H382.0M222.8,315.15H382.0M222.8,319.29H382.0M222.8,323.43H382.0M222.8,327.56H382.0M222.8,331.70H382.0M222.8,335.84H382.0M222.8,339.98H382.0M222.8,344.11H382.0M222.8,348.25H382.0M222.8,352.39H382.0M222.8,356.52H382.0M222.8,360.66H382.0M222.8,364.80H382.0M222.8,368.93H382.0M222.8,373.07H382.0M222.8,377.21H382.0M222.8,381.35H382.0M222.8,385.48H382.0M222.8,389.62H382.0M222.8,393.76H382.0M222.8,397.89H382.0M222.8,402.03H382.0M222.8,406.17H382.0M222.8,410.30H382.0M222.8,414.44H382.0M222.8,418.58H382.0M222.8,422.72H382.0M222.8,426.85H382.0M222.8,430.99H382.0M222.8,435.13H382.0M222.8,439.26H382.0M222.8,443.40H382.0M222.8,447.54H382.0M222.8,451.67H382.0M222.8,455.81H382.0M222.8,459.95H382.0M222.8,464.09H382.0M222.8,468.22H382.0M222.8,472.36H382.0M222.8,476.50H382.0M222.8,480.63H382.0M222.8,484.77H382.0M222.8,488.91H382.0M222.8,493.04H382.0M222.8,497.18H382.0M222.8,501.32H382.0M222.8,505.46H382.0M222.8,509.59H382.0M222.8,513.73H382.0M222.8,517.87H382.0M222.8,522.00H382.0M222.8,526.14H382.0M222.8,530.28H382.0M222.8,534.41H382.0M222.8,538.55H382.0M222.8,542.69H382.0M222.8,546.83H382.0M222.8,550.96H382.0M222.8,555.10H382.0M222.8,559.24H382.0M222.8,563.37H382.0M222.8,567.51H382.0M222.8,571.65H382.0M222.8,575.78H382.0M222.8,579.92H382.0M222.8,584.06H382.0M222.8,588.20H382.0M222.8,592.33H382.0M222.8,596.47H382.0M222.8,600.61H382.0M222.8,604.74H382.0M222.8,608.88H382.0M222.8,613.02H382.0" fill="none" stroke="#7a10c0" stroke-opacity="0.58" stroke-width="0.8"/>
<text x="446.30" y="105.70" font-size="11.2" text-anchor="middle" fill="#222" font-weight="normal" stroke="#222" stroke-width="0.22">Number of Cells</text>
<line x1="402.5" y1="137.2" x2="424.2" y2="137.2" stroke="#222" stroke-width="0.8"/>
<line x1="402.5" y1="137.2" x2="402.5" y2="130.7" stroke="#222" stroke-width="0.8"/>
<line x1="424.2" y1="137.2" x2="424.2" y2="130.7" stroke="#222" stroke-width="0.8"/>
<line x1="441.3" y1="137.2" x2="463.0" y2="137.2" stroke="#222" stroke-width="0.8"/>
<line x1="441.3" y1="137.2" x2="441.3" y2="130.7" stroke="#222" stroke-width="0.8"/>
<line x1="455" y1="137.2" x2="455" y2="133.7" stroke="#222" stroke-width="0.8"/>
<line x1="463.0" y1="137.2" x2="463.0" y2="130.7" stroke="#222" stroke-width="0.8"/>
<line x1="480.5" y1="137.2" x2="500.3" y2="137.2" stroke="#222" stroke-width="0.8"/>
<line x1="480.5" y1="137.2" x2="480.5" y2="130.7" stroke="#222" stroke-width="0.8"/>
<line x1="490" y1="137.2" x2="490" y2="133.7" stroke="#222" stroke-width="0.8"/>
<line x1="500.3" y1="137.2" x2="500.3" y2="133.7" stroke="#222" stroke-width="0.8"/>
<text x="402.50" y="131.60" font-size="10.8" text-anchor="middle" fill="#222" font-weight="normal" stroke="#222" stroke-width="0.22">0</text>
<text x="424.20" y="131.60" font-size="10.8" text-anchor="middle" fill="#222" font-weight="normal" stroke="#222" stroke-width="0.22">10</text>
<text x="453.00" y="132.50" font-size="11.8" text-anchor="start" fill="#222" font-weight="normal" stroke="#222" stroke-width="0.22" transform="rotate(-45 453.00 132.50)">100</text>
<text x="489.00" y="132.50" font-size="12.2" text-anchor="start" fill="#222" font-weight="normal" stroke="#222" stroke-width="0.22" transform="rotate(-45 489.00 132.50)">1000</text>
<text x="501.00" y="133.00" font-size="12.2" text-anchor="start" fill="#222" font-weight="normal" stroke="#222" stroke-width="0.22" transform="rotate(-45 501.00 133.00)">2000</text>
<path d="M402.5,138.40h21.70V140.95h-21.70ZM441.3,138.40h21.70V140.95h-21.70ZM480.5,138.40h19.80V140.95h-19.80ZM402.5,142.35h21.70V145.09h-21.70ZM441.3,142.35h21.70V145.09h-21.70ZM480.5,142.35h2.8V145.09h-2.8ZM402.5,146.49h21.70V149.22h-21.70ZM441.3,146.49h21.70V149.22h-21.70ZM402.5,150.62h21.70V153.36h-21.70ZM441.3,150.62h13.60V153.36h-13.60ZM402.5,154.76h21.70V157.50h-21.70ZM441.3,154.76h12.98V157.50h-12.98ZM402.5,158.90h21.70V161.64h-21.70ZM441.3,158.90h12.36V161.64h-12.36ZM402.5,163.03h21.70V165.77h-21.70ZM441.3,163.03h11.74V165.77h-11.74ZM402.5,167.17h21.70V169.91h-21.70ZM441.3,167.17h11.12V169.91h-11.12ZM402.5,171.31h21.70V174.05h-21.70ZM441.3,171.31h10.50V174.05h-10.50ZM402.5,175.45h21.70V178.18h-21.70ZM441.3,175.45h9.88V178.18h-9.88ZM402.5,179.58h21.70V182.32h-21.70ZM441.3,179.58h9.25V182.32h-9.25ZM402.5,183.72h21.70V186.46h-21.70ZM441.3,183.72h8.62V186.46h-8.62ZM402.5,187.86h21.70V190.59h-21.70ZM441.3,187.86h8.00V190.59h-8.00ZM402.5,191.99h21.70V194.73h-21.70ZM441.3,191.99h7.62V194.73h-7.62ZM402.5,196.13h21.70V198.87h-21.70ZM441.3,196.13h7.23V198.87h-7.23ZM402.5,200.27h21.70V203.00h-21.70ZM441.3,200.27h6.85V203.00h-6.85ZM402.5,204.40h21.70V207.14h-21.70ZM441.3,204.40h6.47V207.14h-6.47ZM402.5,208.54h21.70V211.28h-21.70ZM441.3,208.54h6.08V211.28h-6.08ZM402.5,212.68h21.70V215.42h-21.70ZM441.3,212.68h5.70V215.42h-5.70ZM402.5,216.82h21.70V219.55h-21.70ZM441.3,216.82h5.38V219.55h-5.38ZM402.5,220.95h21.70V223.69h-21.70ZM441.3,220.95h5.06V223.69h-5.06ZM402.5,225.09h21.70V227.83h-21.70ZM441.3,225.09h4.73V227.83h-4.73ZM402.5,229.23h21.70V231.96h-21.70ZM441.3,229.23h4.41V231.96h-4.41ZM402.5,233.36h21.70V236.10h-21.70ZM441.3,233.36h4.09V236.10h-4.09ZM402.5,237.50h21.70V240.24h-21.70ZM441.3,237.50h3.77V240.24h-3.77ZM402.5,241.64h21.70V244.38h-21.70ZM441.3,241.64h3.44V244.38h-3.44ZM402.5,245.77h21.70V248.51h-21.70ZM441.3,245.77h3.12V248.51h-3.12ZM402.5,249.91h21.70V252.65h-21.70ZM441.3,249.91h2.80V252.65h-2.80ZM402.5,254.05h21.70V256.79h-21.70ZM441.3,254.05h2.64V256.79h-2.64ZM402.5,258.19h21.70V260.92h-21.70ZM441.3,258.19h2.48V260.92h-2.48ZM402.5,262.32h21.70V265.06h-21.70ZM441.3,262.32h2.32V265.06h-2.32ZM402.5,266.46h21.70V269.20h-21.70ZM441.3,266.46h2.16V269.20h-2.16ZM402.5,270.60h21.70V273.33h-21.70ZM441.3,270.60h2.00V273.33h-2.00ZM402.5,274.73h21.70V277.47h-21.70ZM441.3,274.73h1.84V277.47h-1.84ZM402.5,278.87h21.70V281.61h-21.70ZM441.3,278.87h1.68V281.61h-1.68ZM402.5,283.01h21.70V285.75h-21.70ZM441.3,283.01h1.52V285.75h-1.52ZM402.5,287.14h21.70V289.88h-21.70ZM441.3,287.14h1.36V289.88h-1.36ZM402.5,291.28h21.70V294.02h-21.70ZM441.3,291.28h1.20V294.02h-1.20ZM402.5,295.42h21.70V298.16h-21.70ZM441.3,295.42h1.14V298.16h-1.14ZM402.5,299.56h21.70V302.29h-21.70ZM441.3,299.56h1.08V302.29h-1.08ZM402.5,303.69h21.70V306.43h-21.70ZM441.3,303.69h1.02V306.43h-1.02ZM402.5,307.83h21.70V310.57h-21.70ZM441.3,307.83h0.96V310.57h-0.96ZM402.5,311.97h21.70V314.70h-21.70ZM441.3,311.97h0.90V314.70h-0.90ZM402.5,316.10h21.70V318.84h-21.70ZM441.3,316.10h0.84V318.84h-0.84ZM402.5,320.24h21.70V322.98h-21.70ZM441.3,320.24h0.78V322.98h-0.78ZM402.5,324.38h21.70V327.12h-21.70ZM441.3,324.38h0.72V327.12h-0.72ZM402.5,328.51h21.70V331.25h-21.70ZM441.3,328.51h0.66V331.25h-0.66ZM402.5,332.65h21.70V335.39h-21.70ZM441.3,332.65h0.60V335.39h-0.60ZM402.5,336.79h21.70V339.53h-21.70ZM441.3,336.79h0.51V339.53h-0.51ZM402.5,340.93h21.70V343.66h-21.70ZM441.3,340.93h0.43V343.66h-0.43ZM402.5,345.06h21.70V347.80h-21.70ZM441.3,345.06h0.34V347.80h-0.34ZM402.5,349.20h21.70V351.94h-21.70ZM441.3,349.20h0.26V351.94h-0.26ZM402.5,353.34h21.70V356.07h-21.70ZM441.3,353.34h0.17V356.07h-0.17ZM402.5,357.47h21.70V360.21h-21.70ZM441.3,357.47h0.09V360.21h-0.09ZM402.5,361.61h21.70V364.35h-21.70ZM402.5,365.75h21.70V368.48h-21.70ZM402.5,369.88h21.70V372.62h-21.70ZM402.5,374.02h21.70V376.76h-21.70ZM402.5,378.16h17.36V380.90h-17.36ZM402.5,382.30h17.36V385.03h-17.36ZM402.5,386.43h17.36V389.17h-17.36ZM402.5,390.57h15.19V393.31h-15.19ZM402.5,394.71h13.02V397.44h-13.02ZM402.5,398.84h13.02V401.58h-13.02ZM402.5,402.98h13.02V405.72h-13.02ZM402.5,407.12h13.02V409.85h-13.02ZM402.5,411.25h13.02V413.99h-13.02ZM402.5,415.39h10.85V418.13h-10.85ZM402.5,419.53h10.85V422.27h-10.85ZM402.5,423.67h10.85V426.40h-10.85ZM402.5,427.80h10.85V430.54h-10.85ZM402.5,431.94h10.85V434.68h-10.85ZM402.5,436.08h8.68V438.81h-8.68ZM402.5,440.21h8.68V442.95h-8.68ZM402.5,444.35h8.68V447.09h-8.68ZM402.5,448.49h8.68V451.22h-8.68ZM402.5,452.62h8.68V455.36h-8.68ZM402.5,456.76h8.68V459.50h-8.68ZM402.5,460.90h8.68V463.64h-8.68ZM402.5,465.04h8.68V467.77h-8.68ZM402.5,469.17h6.51V471.91h-6.51ZM402.5,473.31h6.51V476.05h-6.51ZM402.5,477.45h6.51V480.18h-6.51ZM402.5,481.58h4.34V484.32h-4.34ZM402.5,485.72h4.34V488.46h-4.34ZM402.5,489.86h4.34V492.59h-4.34ZM402.5,493.99h4.34V496.73h-4.34ZM402.5,498.13h4.34V500.87h-4.34ZM402.5,502.27h4.34V505.01h-4.34ZM402.5,506.41h4.34V509.14h-4.34ZM402.5,510.54h4.34V513.28h-4.34ZM402.5,514.68h2.17V517.42h-2.17ZM402.5,518.82h2.17V521.55h-2.17ZM402.5,522.95h2.17V525.69h-2.17ZM402.5,527.09h2.17V529.83h-2.17ZM402.5,531.23h2.17V533.96h-2.17ZM402.5,535.37h2.17V538.10h-2.17ZM402.5,539.50h2.17V542.24h-2.17ZM402.5,543.64h2.17V546.38h-2.17ZM402.5,547.78h2.17V550.51h-2.17ZM402.5,551.91h2.17V554.65h-2.17ZM402.5,556.05h2.17V558.79h-2.17ZM402.5,560.19h2.17V562.92h-2.17ZM402.5,564.32h2.17V567.06h-2.17ZM402.5,568.46h2.17V571.20h-2.17ZM402.5,572.60h2.17V575.33h-2.17ZM402.5,576.74h2.17V579.47h-2.17ZM402.5,580.87h2.17V583.61h-2.17ZM402.5,585.01h2.17V587.75h-2.17ZM402.5,589.15h2.17V591.88h-2.17ZM402.5,593.28h2.17V596.02h-2.17ZM402.5,597.42h2.17V600.16h-2.17ZM402.5,601.56h2.17V604.29h-2.17ZM402.5,605.69h2.17V608.43h-2.17ZM402.5,609.83h2.17V612.57h-2.17ZM402.5,613.97h2.17V616.70h-2.17Z" fill="#4e4e4e" stroke="#1e1e1e" stroke-width="0.45"/>
<line x1="402.5" y1="137.2" x2="402.5" y2="617.4" stroke="#222" stroke-width="0.8"/>
<line x1="441.3" y1="137.2" x2="441.3" y2="262" stroke="#222" stroke-width="0.8"/>
<line x1="480.5" y1="137.2" x2="480.5" y2="147" stroke="#222" stroke-width="0.8"/>
<text x="501.00" y="17.00" font-size="19.5" text-anchor="start" fill="#000" font-weight="bold">d</text>
<rect x="569.50" y="132.95" width="6.3" height="3.05" fill="url(#d0)" stroke="#333" stroke-width="0.6"/>
<rect x="579.19" y="120.75" width="6.3" height="15.25" fill="url(#d1)" stroke="#333" stroke-width="0.6"/>
<rect x="588.88" y="114.65" width="6.3" height="21.35" fill="url(#d2)" stroke="#333" stroke-width="0.6"/>
<rect x="598.57" y="108.55" width="6.3" height="27.45" fill="url(#d3)" stroke="#333" stroke-width="0.6"/>
<rect x="608.26" y="93.30" width="6.3" height="42.70" fill="url(#d4)" stroke="#333" stroke-width="0.6"/>
<rect x="617.95" y="90.25" width="6.3" height="45.75" fill="url(#d5)" stroke="#333" stroke-width="0.6"/>
<rect x="627.64" y="60.2" width="6.3" height="75.80" fill="url(#d6)" stroke="#333" stroke-width="0.6"/>
<rect x="627.64" y="16.8" width="6.3" height="25.20" fill="url(#d6u)" stroke="#333" stroke-width="0.6"/>
<rect x="637.33" y="81.10" width="6.3" height="54.90" fill="url(#d7)" stroke="#333" stroke-width="0.6"/>
<rect x="647.02" y="62.80" width="6.3" height="73.20" fill="url(#d8)" stroke="#333" stroke-width="0.6"/>
<rect x="656.71" y="102.45" width="6.3" height="33.55" fill="url(#d9)" stroke="#333" stroke-width="0.6"/>
<rect x="666.40" y="123.80" width="6.3" height="12.20" fill="url(#d10)" stroke="#333" stroke-width="0.6"/>
<rect x="676.09" y="120.75" width="6.3" height="15.25" fill="url(#d11)" stroke="#333" stroke-width="0.6"/>
<line x1="566.7" y1="58.5" x2="566.7" y2="136.0" stroke="#222" stroke-width="0.8"/>
<line x1="566.7" y1="16.8" x2="566.7" y2="44" stroke="#222" stroke-width="0.8"/>
<line x1="563.2" y1="46" x2="570.2" y2="42" stroke="#222" stroke-width="0.8"/>
<line x1="563.2" y1="60.5" x2="570.2" y2="56.5" stroke="#222" stroke-width="0.8"/>
<line x1="566.7" y1="136.0" x2="686" y2="136.0" stroke="#222" stroke-width="0.9"/>
<line x1="563.7" y1="136.0" x2="566.7" y2="136.0" stroke="#222" stroke-width="0.8"/>
<text x="562.20" y="139.70" font-size="10.3" text-anchor="end" fill="#222" font-weight="normal" stroke="#222" stroke-width="0.22">0</text>
<line x1="563.7" y1="105.5" x2="566.7" y2="105.5" stroke="#222" stroke-width="0.8"/>
<text x="562.20" y="109.20" font-size="10.3" text-anchor="end" fill="#222" font-weight="normal" stroke="#222" stroke-width="0.22">10</text>
<line x1="563.7" y1="75.0" x2="566.7" y2="75.0" stroke="#222" stroke-width="0.8"/>
<text x="562.20" y="78.70" font-size="10.3" text-anchor="end" fill="#222" font-weight="normal" stroke="#222" stroke-width="0.22">20</text>
<line x1="563.7" y1="16.8" x2="566.7" y2="16.8" stroke="#222" stroke-width="0.8"/>
<text x="562.20" y="20.50" font-size="10.3" text-anchor="end" fill="#222" font-weight="normal" stroke="#222" stroke-width="0.22">100</text>
<line x1="572.65" y1="136.0" x2="572.65" y2="138.5" stroke="#222" stroke-width="0.7"/>
<text x="576.55" y="140.00" font-size="11.2" text-anchor="end" fill="#222" font-weight="normal" stroke="#222" stroke-width="0.22" transform="rotate(-90 576.55 140.00)">-15</text>
<line x1="582.34" y1="136.0" x2="582.34" y2="138.5" stroke="#222" stroke-width="0.7"/>
<text x="586.24" y="140.00" font-size="11.2" text-anchor="end" fill="#222" font-weight="normal" stroke="#222" stroke-width="0.22" transform="rotate(-90 586.24 140.00)">-9</text>
<line x1="592.03" y1="136.0" x2="592.03" y2="138.5" stroke="#222" stroke-width="0.7"/>
<text x="595.93" y="140.00" font-size="11.2" text-anchor="end" fill="#222" font-weight="normal" stroke="#222" stroke-width="0.22" transform="rotate(-90 595.93 140.00)">-8</text>
<line x1="601.72" y1="136.0" x2="601.72" y2="138.5" stroke="#222" stroke-width="0.7"/>
<text x="605.62" y="140.00" font-size="11.2" text-anchor="end" fill="#222" font-weight="normal" stroke="#222" stroke-width="0.22" transform="rotate(-90 605.62 140.00)">-7</text>
<line x1="611.41" y1="136.0" x2="611.41" y2="138.5" stroke="#222" stroke-width="0.7"/>
<text x="615.31" y="140.00" font-size="11.2" text-anchor="end" fill="#222" font-weight="normal" stroke="#222" stroke-width="0.22" transform="rotate(-90 615.31 140.00)">-6</text>
<line x1="621.10" y1="136.0" x2="621.10" y2="138.5" stroke="#222" stroke-width="0.7"/>
<text x="625.00" y="140.00" font-size="11.2" text-anchor="end" fill="#222" font-weight="normal" stroke="#222" stroke-width="0.22" transform="rotate(-90 625.00 140.00)">-5</text>
<line x1="630.79" y1="136.0" x2="630.79" y2="138.5" stroke="#222" stroke-width="0.7"/>
<text x="634.69" y="140.00" font-size="11.2" text-anchor="end" fill="#222" font-weight="normal" stroke="#222" stroke-width="0.22" transform="rotate(-90 634.69 140.00)">-4</text>
<line x1="640.48" y1="136.0" x2="640.48" y2="138.5" stroke="#222" stroke-width="0.7"/>
<text x="644.38" y="140.00" font-size="11.2" text-anchor="end" fill="#222" font-weight="normal" stroke="#222" stroke-width="0.22" transform="rotate(-90 644.38 140.00)">-3</text>
<line x1="650.17" y1="136.0" x2="650.17" y2="138.5" stroke="#222" stroke-width="0.7"/>
<text x="654.07" y="140.00" font-size="11.2" text-anchor="end" fill="#222" font-weight="normal" stroke="#222" stroke-width="0.22" transform="rotate(-90 654.07 140.00)">-2</text>
<line x1="659.86" y1="136.0" x2="659.86" y2="138.5" stroke="#222" stroke-width="0.7"/>
<text x="663.76" y="140.00" font-size="11.2" text-anchor="end" fill="#222" font-weight="normal" stroke="#222" stroke-width="0.22" transform="rotate(-90 663.76 140.00)">-1</text>
<line x1="669.55" y1="136.0" x2="669.55" y2="138.5" stroke="#222" stroke-width="0.7"/>
<text x="673.45" y="140.00" font-size="11.2" text-anchor="end" fill="#222" font-weight="normal" stroke="#222" stroke-width="0.22" transform="rotate(-90 673.45 140.00)">0</text>
<line x1="679.24" y1="136.0" x2="679.24" y2="138.5" stroke="#222" stroke-width="0.7"/>
<text x="683.14" y="140.00" font-size="11.2" text-anchor="end" fill="#222" font-weight="normal" stroke="#222" stroke-width="0.22" transform="rotate(-90 683.14 140.00)">1</text>
<text x="630.00" y="164.00" font-size="11.2" text-anchor="middle" fill="#222" font-weight="normal" stroke="#222" stroke-width="0.22">Location</text>
<text x="543.30" y="79.00" font-size="10.5" text-anchor="middle" fill="#111" font-weight="normal" stroke="#111" stroke-width="0.22" transform="rotate(-90 543.30 79.00)">Mutation types</text>
<text x="458.50" y="169.50" font-size="19.5" text-anchor="start" fill="#000" font-weight="bold">e</text>
<rect x="507.80" y="294.10" width="7.2" height="0.75" fill="#8070d8"/>
<text x="511.10" y="308.90" font-size="10.8" text-anchor="middle" fill="#222" font-weight="normal" stroke="#222" stroke-width="0.22">-15</text>
<rect x="525.25" y="293.70" width="7.2" height="1.15" fill="#5b9bd5"/>
<text x="528.55" y="308.90" font-size="10.8" text-anchor="middle" fill="#222" font-weight="normal" stroke="#222" stroke-width="0.22">-9</text>
<rect x="542.70" y="293.60" width="7.2" height="1.25" fill="#52a060"/>
<rect x="542.70" y="292.80" width="7.2" height="0.85" fill="#2a7a9a"/>
<text x="546.00" y="308.90" font-size="10.8" text-anchor="middle" fill="#222" font-weight="normal" stroke="#222" stroke-width="0.22">-8</text>
<rect x="560.15" y="293.30" width="7.2" height="1.55" fill="#a07a10"/>
<rect x="560.15" y="292.50" width="7.2" height="0.85" fill="#f1975a"/>
<text x="563.45" y="308.90" font-size="10.8" text-anchor="middle" fill="#222" font-weight="normal" stroke="#222" stroke-width="0.22">-7</text>
<rect x="577.60" y="293.80" width="7.2" height="1.05" fill="#ffc000"/>
<rect x="577.60" y="292.60" width="7.2" height="1.25" fill="#8a8a58"/>
<rect x="577.60" y="291.60" width="7.2" height="1.05" fill="#f4b183"/>
<text x="580.90" y="308.90" font-size="10.8" text-anchor="middle" fill="#222" font-weight="normal" stroke="#222" stroke-width="0.22">-6</text>
<rect x="595.05" y="292.50" width="7.2" height="2.35" fill="#1400c0"/>
<rect x="595.05" y="291.70" width="7.2" height="0.85" fill="#ffff00"/>
<rect x="595.05" y="290.70" width="7.2" height="1.05" fill="#70ad47"/>
<rect x="595.05" y="289.70" width="7.2" height="1.05" fill="#264478"/>
<rect x="595.05" y="288.80" width="7.2" height="0.95" fill="#f4b183"/>
<text x="598.35" y="308.90" font-size="10.8" text-anchor="middle" fill="#222" font-weight="normal" stroke="#222" stroke-width="0.22">-5</text>
<rect x="612.70" y="241.39" width="7.2" height="53.76" fill="#1400c0"/>
<rect x="612.70" y="227.37" width="7.2" height="14.07" fill="#ffff00"/>
<rect x="612.70" y="216.53" width="7.2" height="10.89" fill="#a5a5a5"/>
<rect x="612.70" y="212.07" width="7.2" height="4.51" fill="#ffc000"/>
<rect x="612.70" y="209.68" width="7.2" height="2.44" fill="#5b9bd5"/>
<rect x="612.70" y="207.44" width="7.2" height="2.28" fill="#70ad47"/>
<rect x="612.70" y="205.53" width="7.2" height="1.96" fill="#264478"/>
<rect x="612.70" y="203.94" width="7.2" height="1.64" fill="#9e480e"/>
<rect x="612.70" y="202.50" width="7.2" height="1.48" fill="#636363"/>
<rect x="612.70" y="201.07" width="7.2" height="1.48" fill="#997300"/>
<rect x="612.70" y="199.79" width="7.2" height="1.32" fill="#255e91"/>
<rect x="612.70" y="198.52" width="7.2" height="1.32" fill="#43682b"/>
<rect x="612.70" y="197.40" width="7.2" height="1.17" fill="#698ed0"/>
<rect x="612.70" y="196.29" width="7.2" height="1.17" fill="#f1975a"/>
<rect x="612.70" y="195.33" width="7.2" height="1.01" fill="#b7b7b7"/>
<rect x="612.70" y="194.38" width="7.2" height="1.01" fill="#ffcd33"/>
<rect x="612.70" y="193.42" width="7.2" height="1.01" fill="#7cafdd"/>
<rect x="612.70" y="192.62" width="7.2" height="0.85" fill="#8cc168"/>
<rect x="612.70" y="191.83" width="7.2" height="0.85" fill="#335aa1"/>
<rect x="612.70" y="191.03" width="7.2" height="0.85" fill="#d26012"/>
<rect x="612.70" y="190.23" width="7.2" height="0.85" fill="#848484"/>
<rect x="612.70" y="189.59" width="7.2" height="0.69" fill="#cc9a00"/>
<rect x="612.70" y="188.96" width="7.2" height="0.69" fill="#327dc2"/>
<rect x="612.70" y="188.32" width="7.2" height="0.69" fill="#5a8a39"/>
<rect x="612.70" y="187.68" width="7.2" height="0.69" fill="#264478"/>
<rect x="612.70" y="187.04" width="7.2" height="0.69" fill="#f1975a"/>
<rect x="612.70" y="186.41" width="7.2" height="0.69" fill="#ffc000"/>
<rect x="612.70" y="185.93" width="7.2" height="0.53" fill="#255e91"/>
<rect x="612.70" y="185.45" width="7.2" height="0.53" fill="#43682b"/>
<rect x="612.70" y="184.97" width="7.2" height="0.53" fill="#ed7d31"/>
<rect x="612.70" y="184.49" width="7.2" height="0.53" fill="#5b9bd5"/>
<rect x="612.70" y="184.02" width="7.2" height="0.53" fill="#1f3864"/>
<rect x="612.70" y="183.54" width="7.2" height="0.53" fill="#ffcd33"/>
<rect x="612.70" y="183.06" width="7.2" height="0.53" fill="#997300"/>
<rect x="612.70" y="182.58" width="7.2" height="0.53" fill="#2e75b6"/>
<rect x="612.70" y="182.26" width="7.2" height="0.37" fill="#c55a11"/>
<rect x="612.70" y="181.94" width="7.2" height="0.37" fill="#7cafdd"/>
<rect x="612.70" y="181.63" width="7.2" height="0.37" fill="#264478"/>
<rect x="612.70" y="181.31" width="7.2" height="0.37" fill="#bf9000"/>
<rect x="612.70" y="180.99" width="7.2" height="0.37" fill="#0f66a0"/>
<rect x="612.70" y="180.67" width="7.2" height="0.37" fill="#ed7d31"/>
<rect x="612.70" y="180.35" width="7.2" height="0.37" fill="#ffc000"/>
<rect x="612.70" y="180.03" width="7.2" height="0.37" fill="#1f3864"/>
<rect x="612.70" y="179.71" width="7.2" height="0.37" fill="#c09000"/>
<rect x="612.70" y="179.39" width="7.2" height="0.37" fill="#1400c0"/>
<rect x="612.70" y="179.08" width="7.2" height="0.37" fill="#ffff00"/>
<rect x="612.70" y="178.76" width="7.2" height="0.37" fill="#a5a5a5"/>
<rect x="612.70" y="178.44" width="7.2" height="0.37" fill="#ffc000"/>
<rect x="612.70" y="178.12" width="7.2" height="0.37" fill="#5b9bd5"/>
<rect x="612.70" y="177.80" width="7.2" height="0.37" fill="#70ad47"/>
<rect x="612.70" y="177.48" width="7.2" height="0.37" fill="#264478"/>
<text x="615.80" y="308.90" font-size="10.8" text-anchor="middle" fill="#222" font-weight="normal" stroke="#222" stroke-width="0.22">-4</text>
<rect x="629.95" y="293.40" width="7.2" height="1.45" fill="#1400c0"/>
<rect x="629.95" y="291.90" width="7.2" height="1.55" fill="#ffff00"/>
<rect x="629.95" y="290.70" width="7.2" height="1.25" fill="#a0b4c8"/>
<rect x="629.95" y="289.90" width="7.2" height="0.85" fill="#997300"/>
<rect x="629.95" y="288.90" width="7.2" height="1.05" fill="#8cc168"/>
<text x="633.25" y="308.90" font-size="10.8" text-anchor="middle" fill="#222" font-weight="normal" stroke="#222" stroke-width="0.22">-3</text>
<rect x="647.40" y="293.80" width="7.2" height="1.05" fill="#c09a20"/>
<rect x="647.40" y="292.80" width="7.2" height="1.05" fill="#a5a5a5"/>
<rect x="647.40" y="291.50" width="7.2" height="1.35" fill="#2e75b6"/>
<rect x="647.40" y="290.20" width="7.2" height="1.35" fill="#5aa050"/>
<text x="650.70" y="308.90" font-size="10.8" text-anchor="middle" fill="#222" font-weight="normal" stroke="#222" stroke-width="0.22">-2</text>
<rect x="664.85" y="293.80" width="7.2" height="1.05" fill="#c09a20"/>
<rect x="664.85" y="292.90" width="7.2" height="0.95" fill="#8aa080"/>
<rect x="664.85" y="291.40" width="7.2" height="1.55" fill="#255e91"/>
<text x="668.15" y="308.90" font-size="10.8" text-anchor="middle" fill="#222" font-weight="normal" stroke="#222" stroke-width="0.22">-1</text>
<rect x="682.30" y="293.80" width="7.2" height="1.05" fill="#ffc000"/>
<text x="685.60" y="308.90" font-size="10.8" text-anchor="middle" fill="#222" font-weight="normal" stroke="#222" stroke-width="0.22">0</text>
<rect x="699.75" y="293.80" width="7.2" height="1.05" fill="#6aaedc"/>
<text x="703.05" y="308.90" font-size="10.8" text-anchor="middle" fill="#222" font-weight="normal" stroke="#222" stroke-width="0.22">1</text>
<line x1="502.8" y1="167.6" x2="502.8" y2="295.1" stroke="#222" stroke-width="0.8"/>
<line x1="502.8" y1="295.1" x2="718.5" y2="295.1" stroke="#222" stroke-width="0.9"/>
<line x1="499.8" y1="295.1" x2="502.8" y2="295.1" stroke="#222" stroke-width="0.8"/>
<text x="498.50" y="298.80" font-size="10.3" text-anchor="end" fill="#222" font-weight="normal" stroke="#222" stroke-width="0.22">0</text>
<line x1="499.8" y1="263.2" x2="502.8" y2="263.2" stroke="#222" stroke-width="0.8"/>
<text x="498.50" y="266.93" font-size="10.3" text-anchor="end" fill="#222" font-weight="normal" stroke="#222" stroke-width="0.22">200</text>
<line x1="499.8" y1="231.4" x2="502.8" y2="231.4" stroke="#222" stroke-width="0.8"/>
<text x="498.50" y="235.05" font-size="10.3" text-anchor="end" fill="#222" font-weight="normal" stroke="#222" stroke-width="0.22">400</text>
<line x1="499.8" y1="199.5" x2="502.8" y2="199.5" stroke="#222" stroke-width="0.8"/>
<text x="498.50" y="203.18" font-size="10.3" text-anchor="end" fill="#222" font-weight="normal" stroke="#222" stroke-width="0.22">600</text>
<line x1="499.8" y1="167.6" x2="502.8" y2="167.6" stroke="#222" stroke-width="0.8"/>
<text x="498.50" y="171.30" font-size="10.3" text-anchor="end" fill="#222" font-weight="normal" stroke="#222" stroke-width="0.22">800</text>
<text x="476.00" y="231.00" font-size="11" text-anchor="middle" fill="#111" font-weight="normal" stroke="#111" stroke-width="0.22" transform="rotate(-90 476.00 231.00)">Number of cells</text>
<text x="459.30" y="308.90" font-size="11.2" text-anchor="start" fill="#222" font-weight="normal" stroke="#222" stroke-width="0.22">Location</text>
<rect x="509.60" y="446.67" width="8.2" height="3.38" fill="#1400c0"/>
<text x="513.70" y="462.40" font-size="10.8" text-anchor="middle" fill="#222" font-weight="normal" stroke="#222" stroke-width="0.22">-15</text>
<rect x="529.17" y="440.02" width="8.2" height="10.03" fill="#1400c0"/>
<rect x="529.17" y="436.69" width="8.2" height="3.38" fill="#ffff00"/>
<rect x="529.17" y="433.36" width="8.2" height="3.38" fill="#a5a5a5"/>
<rect x="529.17" y="430.04" width="8.2" height="3.38" fill="#ffc000"/>
<rect x="529.17" y="426.71" width="8.2" height="3.38" fill="#5b9bd5"/>
<text x="533.27" y="462.40" font-size="10.8" text-anchor="middle" fill="#222" font-weight="normal" stroke="#222" stroke-width="0.22">-9</text>
<rect x="548.74" y="440.02" width="8.2" height="10.03" fill="#1400c0"/>
<rect x="548.74" y="436.69" width="8.2" height="3.38" fill="#ffff00"/>
<rect x="548.74" y="433.36" width="8.2" height="3.38" fill="#a5a5a5"/>
<rect x="548.74" y="430.04" width="8.2" height="3.38" fill="#ffc000"/>
<rect x="548.74" y="426.71" width="8.2" height="3.38" fill="#5b9bd5"/>
<rect x="548.74" y="423.38" width="8.2" height="3.38" fill="#70ad47"/>
<rect x="548.74" y="420.05" width="8.2" height="3.38" fill="#264478"/>
<text x="552.84" y="462.40" font-size="10.8" text-anchor="middle" fill="#222" font-weight="normal" stroke="#222" stroke-width="0.22">-8</text>
<rect x="568.31" y="440.02" width="8.2" height="10.03" fill="#1400c0"/>
<rect x="568.31" y="433.36" width="8.2" height="6.70" fill="#ffff00"/>
<rect x="568.31" y="426.71" width="8.2" height="6.70" fill="#a5a5a5"/>
<rect x="568.31" y="423.38" width="8.2" height="3.38" fill="#ffc000"/>
<rect x="568.31" y="420.05" width="8.2" height="3.38" fill="#5b9bd5"/>
<rect x="568.31" y="416.73" width="8.2" height="3.38" fill="#70ad47"/>
<rect x="568.31" y="413.40" width="8.2" height="3.38" fill="#264478"/>
<rect x="568.31" y="410.07" width="8.2" height="3.38" fill="#9e480e"/>
<rect x="568.31" y="406.74" width="8.2" height="3.38" fill="#636363"/>
<text x="572.41" y="462.40" font-size="10.8" text-anchor="middle" fill="#222" font-weight="normal" stroke="#222" stroke-width="0.22">-7</text>
<rect x="587.88" y="443.35" width="8.2" height="6.70" fill="#1400c0"/>
<rect x="587.88" y="436.69" width="8.2" height="6.70" fill="#ffff00"/>
<rect x="587.88" y="430.04" width="8.2" height="6.70" fill="#a5a5a5"/>
<rect x="587.88" y="423.38" width="8.2" height="6.70" fill="#ffc000"/>
<rect x="587.88" y="416.73" width="8.2" height="6.70" fill="#5b9bd5"/>
<rect x="587.88" y="413.40" width="8.2" height="3.38" fill="#70ad47"/>
<rect x="587.88" y="410.07" width="8.2" height="3.38" fill="#264478"/>
<rect x="587.88" y="406.74" width="8.2" height="3.38" fill="#9e480e"/>
<rect x="587.88" y="403.42" width="8.2" height="3.38" fill="#636363"/>
<rect x="587.88" y="400.09" width="8.2" height="3.38" fill="#997300"/>
<rect x="587.88" y="396.76" width="8.2" height="3.38" fill="#255e91"/>
<rect x="587.88" y="393.43" width="8.2" height="3.38" fill="#43682b"/>
<rect x="587.88" y="390.11" width="8.2" height="3.38" fill="#698ed0"/>
<rect x="587.88" y="386.78" width="8.2" height="3.38" fill="#f1975a"/>
<text x="591.98" y="462.40" font-size="10.8" text-anchor="middle" fill="#222" font-weight="normal" stroke="#222" stroke-width="0.22">-6</text>
<rect x="607.45" y="400.09" width="8.2" height="49.96" fill="#1400c0"/>
<rect x="607.45" y="386.78" width="8.2" height="13.36" fill="#ffff00"/>
<rect x="607.45" y="376.79" width="8.2" height="10.03" fill="#a5a5a5"/>
<rect x="607.45" y="366.81" width="8.2" height="10.03" fill="#ffc000"/>
<rect x="607.45" y="360.16" width="8.2" height="6.70" fill="#5b9bd5"/>
<rect x="607.45" y="356.83" width="8.2" height="3.38" fill="#70ad47"/>
<rect x="607.45" y="353.50" width="8.2" height="3.38" fill="#264478"/>
<rect x="607.45" y="350.18" width="8.2" height="3.38" fill="#9e480e"/>
<rect x="607.45" y="346.85" width="8.2" height="3.38" fill="#636363"/>
<rect x="607.45" y="343.52" width="8.2" height="3.38" fill="#997300"/>
<rect x="607.45" y="340.19" width="8.2" height="3.38" fill="#255e91"/>
<rect x="607.45" y="336.87" width="8.2" height="3.38" fill="#43682b"/>
<rect x="607.45" y="333.54" width="8.2" height="3.38" fill="#698ed0"/>
<rect x="607.45" y="330.21" width="8.2" height="3.38" fill="#f1975a"/>
<rect x="607.45" y="326.88" width="8.2" height="3.38" fill="#b7b7b7"/>
<text x="611.55" y="462.40" font-size="10.8" text-anchor="middle" fill="#222" font-weight="normal" stroke="#222" stroke-width="0.22">-5</text>
<rect x="627.02" y="420.05" width="8.2" height="30.00" fill="#1400c0"/>
<rect x="627.02" y="390.11" width="8.2" height="30.00" fill="#ffff00"/>
<rect x="627.02" y="383.45" width="8.2" height="6.70" fill="#a5a5a5"/>
<rect x="627.02" y="376.80" width="8.2" height="6.70" fill="#ffc000"/>
<rect x="627.02" y="370.14" width="8.2" height="6.70" fill="#5b9bd5"/>
<rect x="627.02" y="366.81" width="8.2" height="3.38" fill="#70ad47"/>
<rect x="627.02" y="363.49" width="8.2" height="3.38" fill="#264478"/>
<rect x="627.02" y="360.16" width="8.2" height="3.38" fill="#9e480e"/>
<rect x="627.02" y="356.83" width="8.2" height="3.38" fill="#636363"/>
<rect x="627.02" y="353.50" width="8.2" height="3.38" fill="#997300"/>
<rect x="627.02" y="350.18" width="8.2" height="3.38" fill="#255e91"/>
<rect x="627.02" y="346.85" width="8.2" height="3.38" fill="#43682b"/>
<rect x="627.02" y="343.52" width="8.2" height="3.38" fill="#698ed0"/>
<rect x="627.02" y="340.19" width="8.2" height="3.38" fill="#f1975a"/>
<rect x="627.02" y="336.87" width="8.2" height="3.38" fill="#b7b7b7"/>
<rect x="627.02" y="333.54" width="8.2" height="3.38" fill="#ffcd33"/>
<rect x="627.02" y="330.21" width="8.2" height="3.38" fill="#7cafdd"/>
<rect x="627.02" y="326.88" width="8.2" height="3.38" fill="#8cc168"/>
<text x="631.12" y="462.40" font-size="10.8" text-anchor="middle" fill="#222" font-weight="normal" stroke="#222" stroke-width="0.22">-3</text>
<rect x="646.59" y="430.04" width="8.2" height="20.01" fill="#1400c0"/>
<rect x="646.59" y="423.38" width="8.2" height="6.70" fill="#ffff00"/>
<rect x="646.59" y="420.05" width="8.2" height="3.38" fill="#a5a5a5"/>
<rect x="646.59" y="416.73" width="8.2" height="3.38" fill="#ffc000"/>
<rect x="646.59" y="413.40" width="8.2" height="3.38" fill="#5b9bd5"/>
<rect x="646.59" y="410.07" width="8.2" height="3.38" fill="#70ad47"/>
<rect x="646.59" y="406.74" width="8.2" height="3.38" fill="#264478"/>
<rect x="646.59" y="403.42" width="8.2" height="3.38" fill="#9e480e"/>
<rect x="646.59" y="400.09" width="8.2" height="3.38" fill="#636363"/>
<rect x="646.59" y="396.76" width="8.2" height="3.38" fill="#997300"/>
<rect x="646.59" y="393.43" width="8.2" height="3.38" fill="#255e91"/>
<rect x="646.59" y="390.11" width="8.2" height="3.38" fill="#43682b"/>
<rect x="646.59" y="386.78" width="8.2" height="3.38" fill="#698ed0"/>
<rect x="646.59" y="383.45" width="8.2" height="3.38" fill="#f1975a"/>
<rect x="646.59" y="380.12" width="8.2" height="3.38" fill="#b7b7b7"/>
<rect x="646.59" y="376.80" width="8.2" height="3.38" fill="#ffcd33"/>
<rect x="646.59" y="373.47" width="8.2" height="3.38" fill="#7cafdd"/>
<rect x="646.59" y="370.14" width="8.2" height="3.38" fill="#8cc168"/>
<rect x="646.59" y="366.81" width="8.2" height="3.38" fill="#335aa1"/>
<rect x="646.59" y="363.49" width="8.2" height="3.38" fill="#d26012"/>
<rect x="646.59" y="360.16" width="8.2" height="3.38" fill="#848484"/>
<rect x="646.59" y="356.83" width="8.2" height="3.38" fill="#cc9a00"/>
<rect x="646.59" y="353.50" width="8.2" height="3.38" fill="#327dc2"/>
<rect x="646.59" y="350.18" width="8.2" height="3.38" fill="#5a8a39"/>
<text x="650.69" y="462.40" font-size="10.8" text-anchor="middle" fill="#222" font-weight="normal" stroke="#222" stroke-width="0.22">-2</text>
<rect x="666.16" y="430.04" width="8.2" height="20.01" fill="#1400c0"/>
<rect x="666.16" y="423.38" width="8.2" height="6.70" fill="#ffff00"/>
<rect x="666.16" y="416.73" width="8.2" height="6.70" fill="#a5a5a5"/>
<rect x="666.16" y="413.40" width="8.2" height="3.38" fill="#ffc000"/>
<rect x="666.16" y="410.07" width="8.2" height="3.38" fill="#5b9bd5"/>
<rect x="666.16" y="406.74" width="8.2" height="3.38" fill="#70ad47"/>
<rect x="666.16" y="403.42" width="8.2" height="3.38" fill="#264478"/>
<rect x="666.16" y="400.09" width="8.2" height="3.38" fill="#9e480e"/>
<rect x="666.16" y="396.76" width="8.2" height="3.38" fill="#636363"/>
<rect x="666.16" y="393.43" width="8.2" height="3.38" fill="#997300"/>
<rect x="666.16" y="390.11" width="8.2" height="3.38" fill="#255e91"/>
<text x="670.26" y="462.40" font-size="10.8" text-anchor="middle" fill="#222" font-weight="normal" stroke="#222" stroke-width="0.22">-1</text>
<rect x="685.73" y="446.67" width="8.2" height="3.38" fill="#1400c0"/>
<rect x="685.73" y="443.35" width="8.2" height="3.38" fill="#ffff00"/>
<rect x="685.73" y="440.02" width="8.2" height="3.38" fill="#a5a5a5"/>
<rect x="685.73" y="436.69" width="8.2" height="3.38" fill="#ffc000"/>
<text x="689.83" y="462.40" font-size="10.8" text-anchor="middle" fill="#222" font-weight="normal" stroke="#222" stroke-width="0.22">0</text>
<rect x="705.30" y="443.35" width="8.2" height="6.70" fill="#1400c0"/>
<rect x="705.30" y="436.69" width="8.2" height="6.70" fill="#ffff00"/>
<rect x="705.30" y="433.36" width="8.2" height="3.38" fill="#a5a5a5"/>
<rect x="705.30" y="430.04" width="8.2" height="3.38" fill="#ffc000"/>
<rect x="705.30" y="426.71" width="8.2" height="3.38" fill="#5b9bd5"/>
<text x="709.40" y="462.40" font-size="10.8" text-anchor="middle" fill="#222" font-weight="normal" stroke="#222" stroke-width="0.22">1</text>
<line x1="502.8" y1="316.9" x2="502.8" y2="450.0" stroke="#222" stroke-width="0.8"/>
<line x1="502.8" y1="450.0" x2="718.5" y2="450.0" stroke="#222" stroke-width="0.9"/>
<line x1="499.8" y1="450.0" x2="502.8" y2="450.0" stroke="#222" stroke-width="0.8"/>
<text x="498.50" y="453.70" font-size="10.3" text-anchor="end" fill="#222" font-weight="normal" stroke="#222" stroke-width="0.22">0</text>
<line x1="499.8" y1="416.7" x2="502.8" y2="416.7" stroke="#222" stroke-width="0.8"/>
<text x="498.50" y="420.43" font-size="10.3" text-anchor="end" fill="#222" font-weight="normal" stroke="#222" stroke-width="0.22">10</text>
<line x1="499.8" y1="383.4" x2="502.8" y2="383.4" stroke="#222" stroke-width="0.8"/>
<text x="498.50" y="387.15" font-size="10.3" text-anchor="end" fill="#222" font-weight="normal" stroke="#222" stroke-width="0.22">20</text>
<line x1="499.8" y1="350.2" x2="502.8" y2="350.2" stroke="#222" stroke-width="0.8"/>
<text x="498.50" y="353.88" font-size="10.3" text-anchor="end" fill="#222" font-weight="normal" stroke="#222" stroke-width="0.22">30</text>
<line x1="499.8" y1="316.9" x2="502.8" y2="316.9" stroke="#222" stroke-width="0.8"/>
<text x="498.50" y="320.60" font-size="10.3" text-anchor="end" fill="#222" font-weight="normal" stroke="#222" stroke-width="0.22">40</text>
<text x="476.00" y="384.00" font-size="11" text-anchor="middle" fill="#111" font-weight="normal" stroke="#111" stroke-width="0.22" transform="rotate(-90 476.00 384.00)">Number of cells</text>
<text x="459.30" y="462.40" font-size="11.2" text-anchor="start" fill="#222" font-weight="normal" stroke="#222" stroke-width="0.22">Location</text>
<rect x="441.3" y="468.70" width="17.7" height="12.28" fill="#fff" stroke="#777" stroke-width="0.8"/>
<text x="450.45" y="478.38" font-size="11.15" text-anchor="middle" fill="#111" font-weight="normal" stroke="#111" stroke-width="0.22">-15</text>
<rect x="459.0" y="468.70" width="192.5" height="12.28" fill="url(#tB)" stroke="#777" stroke-width="0.8"/>
<text x="461.50" y="478.38" font-size="11.15" text-anchor="start" fill="#111" font-weight="normal" stroke="#111" stroke-width="0.22">CGTCCAGTAATGGTTATGTTAT(1)</text>
<rect x="441.3" y="480.98" width="17.7" height="12.28" fill="#fff" stroke="#777" stroke-width="0.8"/>
<text x="450.45" y="490.66" font-size="11.15" text-anchor="middle" fill="#111" font-weight="normal" stroke="#111" stroke-width="0.22">-9</text>
<rect x="459.0" y="480.98" width="50.3" height="12.28" fill="url(#tB)" stroke="#777" stroke-width="0.8"/>
<text x="461.50" y="490.66" font-size="11.15" text-anchor="start" fill="#111" font-weight="normal" stroke="#111" stroke-width="0.22">CTC(3)</text>
<rect x="441.3" y="493.26" width="17.7" height="12.28" fill="#fff" stroke="#777" stroke-width="0.8"/>
<text x="450.45" y="502.94" font-size="11.15" text-anchor="middle" fill="#111" font-weight="normal" stroke="#111" stroke-width="0.22">-8</text>
<rect x="459.0" y="493.26" width="56.4" height="12.28" fill="url(#tB)" stroke="#777" stroke-width="0.8"/>
<text x="461.50" y="502.94" font-size="11.15" text-anchor="start" fill="#111" font-weight="normal" stroke="#111" stroke-width="0.22">GCAC(3)</text>
<rect x="441.3" y="505.54" width="17.7" height="12.28" fill="#fff" stroke="#777" stroke-width="0.8"/>
<text x="450.45" y="515.22" font-size="11.15" text-anchor="middle" fill="#111" font-weight="normal" stroke="#111" stroke-width="0.22">-7</text>
<rect x="459.0" y="505.54" width="43.5" height="12.28" fill="url(#tB)" stroke="#777" stroke-width="0.8"/>
<text x="461.50" y="515.22" font-size="11.15" text-anchor="start" fill="#111" font-weight="normal" stroke="#111" stroke-width="0.22">GG(3)</text>
<rect x="502.5" y="505.54" width="167.9" height="12.28" fill="url(#tY)" stroke="#777" stroke-width="0.8"/>
<text x="507.50" y="515.22" font-size="11.15" text-anchor="start" fill="#111" font-weight="normal" stroke="#111" stroke-width="0.22">CACGTCCAGCACGTCC/TA(2)</text>
<rect x="441.3" y="517.82" width="17.7" height="12.28" fill="#fff" stroke="#777" stroke-width="0.8"/>
<text x="450.45" y="527.50" font-size="11.15" text-anchor="middle" fill="#111" font-weight="normal" stroke="#111" stroke-width="0.22">-6</text>
<rect x="459.0" y="517.82" width="259.8" height="12.28" fill="#fff" stroke="#777" stroke-width="0.8"/>
<text x="461.50" y="527.50" font-size="11.15" text-anchor="start" fill="#111" font-weight="normal" stroke="#111" stroke-width="0.22">CCGGGTCCCG/GAGCCAGT/GG/G/GTTCCCG(2)</text>
<rect x="441.3" y="530.10" width="17.7" height="12.28" fill="#fff" stroke="#777" stroke-width="0.8"/>
<text x="450.45" y="539.78" font-size="11.15" text-anchor="middle" fill="#111" font-weight="normal" stroke="#111" stroke-width="0.22">-5</text>
<rect x="459.0" y="530.10" width="108.7" height="12.28" fill="url(#tB)" stroke="#777" stroke-width="0.8"/>
<text x="461.50" y="539.78" font-size="11.15" text-anchor="start" fill="#111" font-weight="normal" stroke="#111" stroke-width="0.22">AAAAGCTCCG(15)</text>
<rect x="567.7" y="530.10" width="40.3" height="12.28" fill="url(#tY)" stroke="#777" stroke-width="0.8"/>
<text x="572.70" y="539.78" font-size="11.15" text-anchor="start" fill="#111" font-weight="normal" stroke="#111" stroke-width="0.22">TC(4)</text>
<rect x="441.3" y="542.38" width="17.7" height="12.28" fill="#fff" stroke="#777" stroke-width="0.8"/>
<text x="450.45" y="552.06" font-size="11.15" text-anchor="middle" fill="#111" font-weight="normal" stroke="#111" stroke-width="0.22">-4</text>
<rect x="459.0" y="542.38" width="50.3" height="12.28" fill="url(#tB)" stroke="#777" stroke-width="0.8"/>
<text x="461.50" y="552.06" font-size="11.15" text-anchor="start" fill="#111" font-weight="normal" stroke="#111" stroke-width="0.22">CC(337)</text>
<rect x="509.3" y="542.38" width="44.7" height="12.28" fill="url(#tY)" stroke="#777" stroke-width="0.8"/>
<text x="514.30" y="552.06" font-size="11.15" text-anchor="start" fill="#111" font-weight="normal" stroke="#111" stroke-width="0.22">TC(88)</text>
<rect x="554.0" y="542.38" width="41.0" height="12.28" fill="#fff" stroke="#777" stroke-width="0.8"/>
<text x="560.00" y="552.06" font-size="11.15" text-anchor="start" fill="#111" font-weight="normal" stroke="#111" stroke-width="0.22">C(70)</text>
<rect x="441.3" y="554.66" width="17.7" height="12.28" fill="#fff" stroke="#777" stroke-width="0.8"/>
<text x="450.45" y="564.34" font-size="11.15" text-anchor="middle" fill="#111" font-weight="normal" stroke="#111" stroke-width="0.22">-3</text>
<rect x="459.0" y="554.66" width="209.8" height="12.28" fill="#fff" stroke="#777" stroke-width="0.8"/>
<text x="461.50" y="564.34" font-size="11.15" text-anchor="start" fill="#111" font-weight="normal" stroke="#111" stroke-width="0.22">TATGCTTATGATTA/TTAGATCCAGT(9)</text>
<rect x="441.3" y="566.94" width="17.7" height="12.28" fill="#fff" stroke="#777" stroke-width="0.8"/>
<text x="450.45" y="576.62" font-size="11.15" text-anchor="middle" fill="#111" font-weight="normal" stroke="#111" stroke-width="0.22">-2</text>
<rect x="459.0" y="566.94" width="108.7" height="12.28" fill="url(#tB)" stroke="#777" stroke-width="0.8"/>
<text x="461.50" y="576.62" font-size="11.15" text-anchor="start" fill="#111" font-weight="normal" stroke="#111" stroke-width="0.22">CGGGACAGTAC(6)</text>
<rect x="567.7" y="566.94" width="48.3" height="12.28" fill="url(#tY)" stroke="#777" stroke-width="0.8"/>
<text x="572.70" y="576.62" font-size="11.15" text-anchor="start" fill="#111" font-weight="normal" stroke="#111" stroke-width="0.22">ACA(2)</text>
<rect x="441.3" y="579.22" width="17.7" height="12.28" fill="#fff" stroke="#777" stroke-width="0.8"/>
<text x="450.45" y="588.90" font-size="11.15" text-anchor="middle" fill="#111" font-weight="normal" stroke="#111" stroke-width="0.22">-1</text>
<rect x="459.0" y="579.22" width="146.2" height="12.28" fill="url(#tB)" stroke="#777" stroke-width="0.8"/>
<text x="461.50" y="588.90" font-size="11.15" text-anchor="start" fill="#111" font-weight="normal" stroke="#111" stroke-width="0.22">GTTAGGGATAGGGTTA(6)</text>
<rect x="605.2" y="579.22" width="76.5" height="12.28" fill="#fff" stroke="#777" stroke-width="0.8"/>
<text x="611.20" y="588.90" font-size="11.15" text-anchor="start" fill="#111" font-weight="normal" stroke="#111" stroke-width="0.22">GTCCA/T(2)</text>
<rect x="441.3" y="591.50" width="17.7" height="12.28" fill="#fff" stroke="#777" stroke-width="0.8"/>
<text x="450.45" y="601.18" font-size="11.15" text-anchor="middle" fill="#111" font-weight="normal" stroke="#111" stroke-width="0.22">0</text>
<rect x="459.0" y="591.50" width="112.0" height="12.28" fill="#fff" stroke="#777" stroke-width="0.8"/>
<text x="461.50" y="601.18" font-size="11.15" text-anchor="start" fill="#111" font-weight="normal" stroke="#111" stroke-width="0.22">CCA/A/TA/AGTA(1)</text>
<rect x="441.3" y="603.78" width="17.7" height="12.28" fill="#fff" stroke="#777" stroke-width="0.8"/>
<text x="450.45" y="613.46" font-size="11.15" text-anchor="middle" fill="#111" font-weight="normal" stroke="#111" stroke-width="0.22">1</text>
<rect x="459.0" y="603.78" width="172.4" height="12.28" fill="#fff" stroke="#777" stroke-width="0.8"/>
<text x="461.50" y="613.46" font-size="11.15" text-anchor="start" fill="#111" font-weight="normal" stroke="#111" stroke-width="0.22">ATTCCA/ACAGGCGCGAAG(2)</text>
</svg>
</body></html>
